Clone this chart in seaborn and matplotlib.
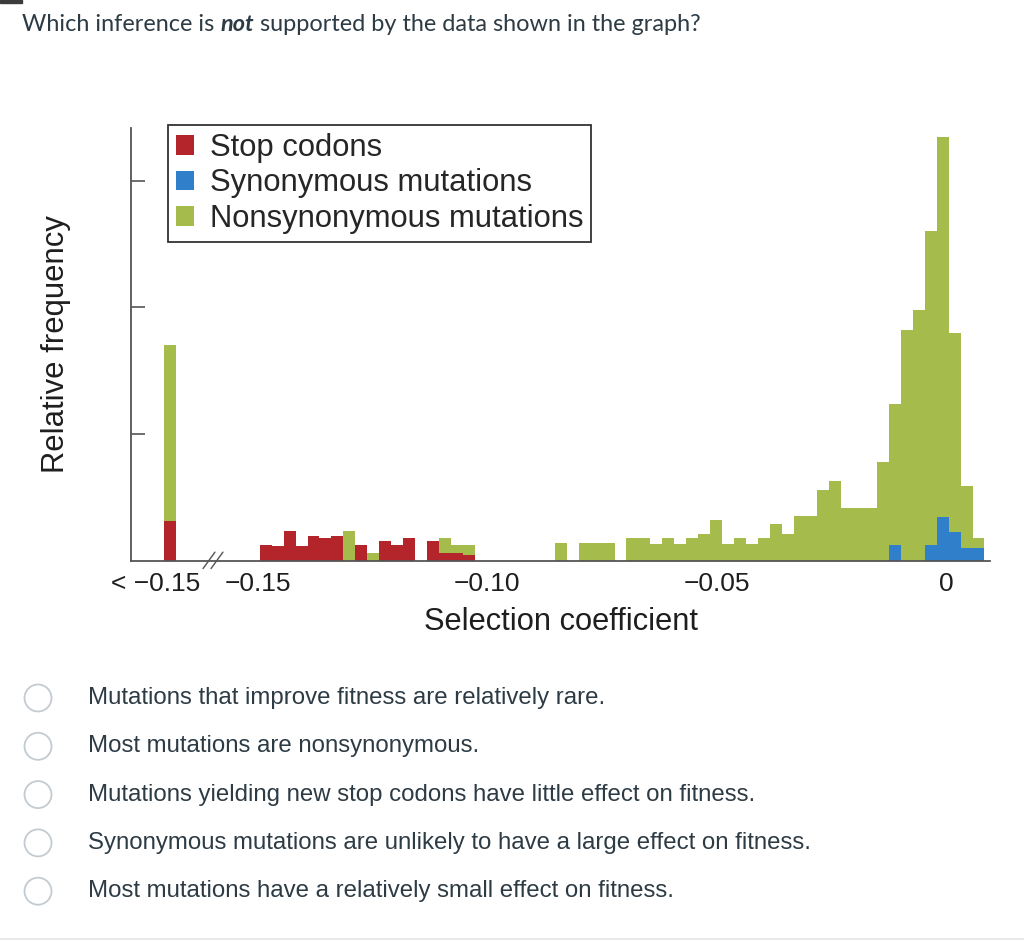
import numpy as np
import pandas as pd
import matplotlib
matplotlib.use('Agg')
import matplotlib.pyplot as plt
from matplotlib.patches import Patch, Circle, Rectangle
from matplotlib.lines import Line2D
import seaborn as sns

# categories and colours
types = ['Stop codons', 'Synonymous mutations', 'Nonsynonymous mutations']
colors = ['#b3252a', '#2f7fcb', '#a5bc4c']

# histogram bins (selection coefficient), relative frequency in %
bin_width = 0.0026

# the "< -0.15" bin
tail_left = -0.1704
tail_stop = 3.15
tail_nonsyn = 13.85

# -0.15 .. -0.10 segment
left_start = -0.1495
left_stop = [1.3, 1.15, 2.35, 1.2, 1.95, 1.8, 1.95, 0, 1.3, 0, 1.6, 1.3,
             1.8, 0, 1.6, 0.65, 0.6, 0.45, 0]
left_nonsyn = [0, 0, 0, 0, 0, 0, 0, 2.35, 0, 0.6, 0, 0,
               0, 0, 0, 1.15, 0.7, 0.85, 0]

# -0.085 .. 0.01 segment
right_start = -0.0852
right_syn = [0, 0, 0, 0, 0, 0, 0, 0, 0, 0, 0, 0,
             0, 0, 0, 0, 0, 0, 0, 0, 0, 0, 0, 0,
             0, 0, 0, 0, 1.3, 0, 0, 1.3, 3.5, 2.3, 1.0, 1.05]
right_nonsyn = [1.4, 0, 1.4, 1.4, 1.4, 0, 1.85, 1.85, 1.35, 1.85, 1.35, 1.85,
                2.15, 3.25, 1.35, 1.85, 1.35, 1.85, 2.95, 2.15, 3.55, 3.55, 5.6, 6.3,
                4.15, 4.15, 4.15, 7.8, 11.1, 18.2, 19.8, 24.7, 29.95, 15.65, 4.95, 0.75]

tick_pos = [-0.1625, -0.15, -0.10, -0.05, 0]
tick_labels = ['< \u22120.15', '\u22120.15', '\u22120.10', '\u22120.05', '0']

question = ['Which inference is ', 'not', ' supported by the data shown in the graph?']
answers = ['Mutations that improve fitness are relatively rare.',
           'Most mutations are nonsynonymous.',
           'Mutations yielding new stop codons have little effect on fitness.',
           'Synonymous mutations are unlikely to have a large effect on fitness.',
           'Most mutations have a relatively small effect on fitness.']


def buildFrame():
    """Long table of bin centre, mutation type and frequency."""
    rows = []
    rows.append((tail_left + bin_width / 2, types[0], tail_stop))
    rows.append((tail_left + bin_width / 2, types[2], tail_nonsyn))
    for i in range(len(left_stop)):
        c = left_start + bin_width * (i + 0.5)
        rows.append((c, types[0], left_stop[i]))
        rows.append((c, types[2], left_nonsyn[i]))
    for i in range(len(right_syn)):
        c = right_start + bin_width * (i + 0.5)
        rows.append((c, types[1], right_syn[i]))
        rows.append((c, types[2], right_nonsyn[i]))
    return pd.DataFrame(rows, columns=['s', 'type', 'freq'])


def buildEdges():
    tail = [tail_left, tail_left + bin_width]
    left = [left_start + bin_width * k for k in range(len(left_stop) + 1)]
    right = [right_start + bin_width * k for k in range(len(right_syn) + 1)]
    return tail + left + right


sns.set_theme(style='ticks')
plt.rcParams['font.family'] = ['Liberation Sans', 'DejaVu Sans']

df = buildFrame()
edges = buildEdges()

fig = plt.figure(figsize=(10.24, 9.42), dpi=100)
W, H = 1024, 942
ax = fig.add_axes([131 / W, 1 - 561 / H, 859 / W, 433 / H])

sns.histplot(data=df, x='s', weights='freq', hue='type',
             hue_order=[types[2], types[1], types[0]],
             palette=dict(zip(types, colors)), multiple='stack',
             bins=edges, alpha=1, linewidth=0, legend=False, ax=ax)

ax.set_xlim(-0.17756, 0.0096)
ax.set_ylim(0, 34.15)
ax.set_yticks([10, 20, 30])
ax.set_yticklabels([])
ax.tick_params(axis='y', direction='in', length=10, width=1.2, color='#555')
ax.set_xticks(tick_pos)
ax.set_xticklabels(tick_labels)
ax.set_xticks([-0.10], minor=True)
ax.tick_params(axis='x', which='major', length=0, pad=8, labelsize=19,
               labelcolor='#1e1e1e')
ax.tick_params(axis='x', which='minor', direction='in', length=9, width=1.2,
               color='#555')
ax.get_xticklabels()[0].set_horizontalalignment('right')
for side in ['top', 'right']:
    ax.spines[side].set_visible(False)
for side in ['left', 'bottom']:
    ax.spines[side].set_color('#555')
    ax.spines[side].set_linewidth(1.3)
ax.set_xlabel('Selection coefficient', fontsize=22.2, color='#1e1e1e', labelpad=8)
ax.set_ylabel('Relative frequency', fontsize=22.3, color='#1e1e1e', labelpad=40)

# axis break marks
for x0 in [-0.16187, -0.16013]:
    ax.add_line(Line2D([x0, x0 + 0.0026], [-0.6, 0.7], color='#555', lw=1.0,
                       clip_on=False))

handles = [Patch(facecolor=c, edgecolor='none') for c in colors]
leg = fig.legend(handles, types, loc='upper left',
                 bbox_to_anchor=(168 / W, 1 - 125 / H), borderaxespad=0,
                 fontsize=22.3, frameon=True, fancybox=False, framealpha=1,
                 edgecolor='#333', handlelength=0.6, handleheight=0.6,
                 handletextpad=0.5, labelspacing=0.18, borderpad=0.25)
leg.get_frame().set_linewidth(1.3)

# question text
fig.add_artist(Rectangle((0, 1 - 3 / H), 22 / W, 3 / H, color='#3b3b3b',
                         transform=fig.transFigure))
fig.canvas.draw()
renderer = fig.canvas.get_renderer()
x = 22 / W
for i, part in enumerate(question):
    t = fig.text(x, 1 - 31 / H, part, family=['Lato', 'DejaVu Sans'],
                 fontsize=16.9, color='#2d3b45', va='baseline',
                 weight='bold' if i == 1 else 'normal',
                 style='italic' if i == 1 else 'normal')
    bb = t.get_window_extent(renderer)
    x = x + bb.width / W

for i, a in enumerate(answers):
    yc = 698 + 48.3 * i
    fig.text(88 / W, 1 - yc / H, a, fontsize=17.3, color='#2d3b45', va='center')
    fig.add_artist(Circle((38 / 100, (H - yc) / 100), 0.135,
                          transform=fig.dpi_scale_trans, facecolor='white',
                          edgecolor='#c4cbd0', lw=1.3))

fig.add_artist(Line2D([0, 1], [1 - 939 / H, 1 - 939 / H], color='#e8eaec', lw=1.5,
                      transform=fig.transFigure))

fig.savefig('out.png', dpi=100, facecolor='white')
